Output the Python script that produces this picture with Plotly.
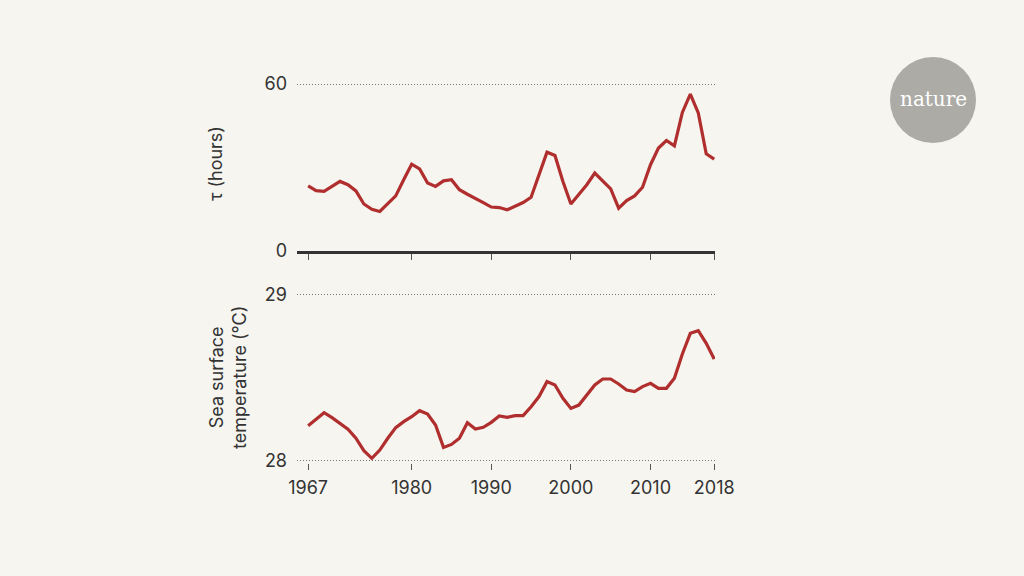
import plotly.graph_objects as go

years = list(range(1967, 2019))
tau_hours = [23.4, 21.7, 21.4, 23.2, 25.0, 23.8, 21.6, 16.9, 15.0, 14.2,
             16.9, 19.8, 25.6, 31.2, 29.5, 24.4, 23.2, 25.2, 25.6, 22.0,
             20.4, 19.0, 17.4, 15.8, 15.6, 14.8, 16.0, 17.4, 19.3, 27.4,
             35.5, 34.3, 25.0, 16.9, 20.2, 23.8, 28.0, 25.0, 22.3, 15.4,
             18.1, 19.8, 22.9, 31.0, 37.0, 39.7, 37.8, 49.8, 56.4, 49.6,
             34.9, 33.0]
sst_c = [28.213, 28.253, 28.291, 28.261, 28.223, 28.191, 28.137, 28.062, 28.016, 28.066,
         28.137, 28.201, 28.237, 28.267, 28.303, 28.283, 28.217, 28.082, 28.100, 28.137,
         28.231, 28.193, 28.203, 28.233, 28.271, 28.263, 28.273, 28.273, 28.327, 28.388,
         28.478, 28.458, 28.378, 28.317, 28.337, 28.398, 28.458, 28.494, 28.494, 28.464,
         28.428, 28.418, 28.448, 28.468, 28.438, 28.438, 28.498, 28.645, 28.769, 28.785,
         28.709, 28.614]
year_ticks = [1967, 1980, 1990, 2000, 2010, 2018]
tau_ticks = [0, 60]
sst_ticks = [28, 29]

W, H = 1024, 576
BG = "#f6f5ef"
RED = "#b02e2e"
TXT = "#333333"
FONT = "Inter"


def py(p):
    """pixel row -> paper fraction"""
    return (H - p) / H


fig = go.Figure()
fig.add_trace(go.Scatter(x=years, y=tau_hours, mode="lines",
                         line=dict(color=RED, width=3.2), xaxis="x", yaxis="y",
                         showlegend=False, cliponaxis=False, hoverinfo="skip"))
fig.add_trace(go.Scatter(x=years, y=sst_c, mode="lines",
                         line=dict(color=RED, width=3.2), xaxis="x2", yaxis="y2",
                         showlegend=False, cliponaxis=False, hoverinfo="skip"))

xdom = [297 / W, 715 / W]
xrange = [1965.6, 2018.1]
common_x = dict(domain=xdom, range=xrange, tickvals=year_ticks, ticks="outside",
                ticklen=6, tickwidth=1, tickcolor="#555", showgrid=False,
                zeroline=False, fixedrange=True, automargin=False)

# top panel: 0 -> px 251, 60 -> px 84
tau_pxu = (251 - 84) / 60
tau_top = 60.7
# bottom panel: 28 -> px 461, 29 -> px 295
sst_pxu = 461 - 295
sst_lo, sst_hi = 27.988, 29.012

GRID = dict(showgrid=True, gridcolor="#777", griddash="1px,2px", gridwidth=1,
            zeroline=False, showline=False, ticks="", ticklabelstandoff=9,
            fixedrange=True, automargin=False)

fig.update_layout(
    width=W, height=H,
    margin=dict(l=0, r=0, t=0, b=0, autoexpand=False),
    paper_bgcolor=BG, plot_bgcolor=BG,
    showlegend=False,
    font=dict(family=FONT, size=18, color=TXT),
    xaxis=dict(**common_x, anchor="y", showticklabels=False,
               showline=True, linecolor="#333", linewidth=2.5),
    yaxis=dict(domain=[py(251), py(84 - (tau_top - 60) * tau_pxu)],
               range=[0, tau_top], tickvals=tau_ticks, anchor="x", **GRID),
    xaxis2=dict(**common_x, anchor="y2", showline=False,
                tickfont=dict(size=18, color=TXT), ticklabelstandoff=2),
    yaxis2=dict(domain=[py(461 + (28 - sst_lo) * sst_pxu),
                        py(295 - (sst_hi - 29) * sst_pxu)],
                range=[sst_lo, sst_hi], tickvals=sst_ticks, anchor="x2", **GRID),
)

fig.add_annotation(text="τ (hours)", x=215 / W, y=py(164),
                   xref="paper", yref="paper", textangle=-90, showarrow=False,
                   xanchor="center", yanchor="middle",
                   font=dict(size=18, color=TXT, family=FONT))
fig.add_annotation(text="Sea surface<br>temperature (°C)", x=228 / W,
                   y=py(378), xref="paper", yref="paper", textangle=-90,
                   showarrow=False, xanchor="center", yanchor="middle",
                   font=dict(size=18, color=TXT, family=FONT))

# nature badge
cx, cy, r = 933, 100, 43
fig.add_shape(type="circle", xref="paper", yref="paper",
              x0=(cx - r) / W, x1=(cx + r) / W,
              y0=py(cy + r), y1=py(cy - r),
              fillcolor="#acaba6", line=dict(width=0), layer="above")
fig.add_annotation(text="nature", x=cx / W, y=py(cy - 1),
                   xref="paper", yref="paper", showarrow=False,
                   xanchor="center", yanchor="middle",
                   font=dict(size=20, color="white", family="DejaVu Serif"))

fig.write_html(
    "out.html",
    config={"displayModeBar": False, "staticPlot": True},
    post_script=(
        "document.body.style.margin='0';"
        "document.body.style.overflow='hidden';"
        "document.body.style.background='" + BG + "';"),
)
